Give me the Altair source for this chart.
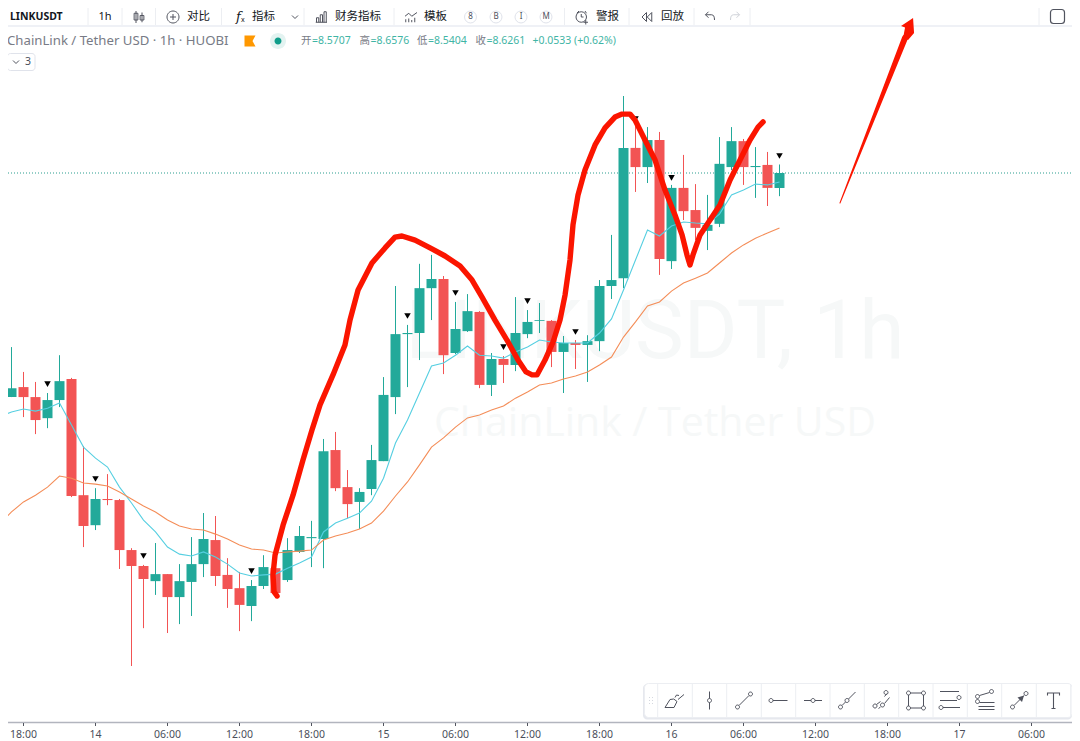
import altair as alt
import pandas as pd

# ---------- candles, hourly ----------
opens = [7.642,7.797,7.834,7.797,7.719,7.786,7.864,7.434,7.323,7.420,7.416,7.231,7.172,7.116,7.142,7.057,7.113,7.179,7.268,7.139,7.090,7.024,7.098,7.164,7.120,7.224,7.275,7.272,7.601,7.464,7.409,7.457,7.560,7.797,8.030,8.034,8.200,8.234,7.960,8.041,8.112,7.842,7.938,7.916,8.030,8.079,8.079,7.964,7.997,7.990,8.004,8.208,8.237,8.719,8.648,8.748,8.300,8.571,8.489,8.412,8.438,8.648,8.744,8.648,8.656,8.5707]
highs = [7.823,7.982,7.890,7.853,7.812,7.952,7.868,7.616,7.460,7.512,7.420,7.238,7.176,7.257,7.142,7.179,7.279,7.368,7.357,7.201,7.150,7.120,7.212,7.250,7.275,7.320,7.339,7.642,7.668,7.527,7.460,7.620,7.871,8.208,8.064,8.290,8.323,8.245,8.149,8.178,8.115,7.960,7.949,8.167,8.119,8.145,8.082,8.023,8.008,8.026,8.230,8.397,8.911,8.830,8.796,8.778,8.582,8.693,8.585,8.545,8.759,8.796,8.752,8.722,8.704,8.6576]
lows = [7.638,7.797,7.723,7.660,7.682,7.760,7.427,7.242,7.305,7.397,7.161,6.802,6.942,7.065,6.924,6.957,6.987,7.131,7.098,7.017,6.931,6.968,7.087,7.053,7.113,7.220,7.168,7.164,7.449,7.349,7.309,7.434,7.560,7.734,7.834,7.934,8.082,7.882,7.956,8.038,7.830,7.801,7.849,7.893,8.015,8.034,7.908,7.812,7.901,7.853,7.967,8.160,8.200,8.556,8.589,8.249,8.271,8.452,8.378,8.341,8.426,8.637,8.582,8.534,8.504,8.5404]
closes = [7.801,7.830,7.797,7.712,7.786,7.856,7.431,7.320,7.420,7.416,7.231,7.172,7.124,7.142,7.057,7.116,7.179,7.272,7.135,7.087,7.028,7.098,7.168,7.072,7.231,7.283,7.279,7.597,7.460,7.401,7.446,7.564,7.805,8.030,8.034,8.200,8.234,7.952,8.049,8.115,7.842,7.938,7.916,8.034,8.075,8.082,7.964,7.997,7.990,8.004,8.208,8.230,8.719,8.648,8.748,8.308,8.571,8.485,8.423,8.434,8.660,8.744,8.648,8.652,8.571,8.6261]
ma_fast = [7.723,7.742,7.753,7.745,7.756,7.775,7.694,7.612,7.571,7.538,7.464,7.405,7.342,7.298,7.242,7.216,7.209,7.224,7.205,7.179,7.146,7.135,7.139,7.142,7.164,7.183,7.205,7.298,7.331,7.349,7.368,7.412,7.497,7.627,7.712,7.812,7.912,7.923,7.952,7.986,7.952,7.949,7.941,7.964,7.982,8.008,8.001,7.997,7.997,7.997,8.034,8.086,8.193,8.304,8.415,8.393,8.430,8.445,8.441,8.438,8.474,8.545,8.563,8.585,8.582,8.593]
ma_slow = [7.327,7.372,7.409,7.434,7.464,7.505,7.497,7.479,7.475,7.468,7.446,7.420,7.394,7.372,7.342,7.320,7.309,7.305,7.290,7.272,7.250,7.235,7.231,7.220,7.224,7.227,7.231,7.268,7.283,7.294,7.309,7.331,7.375,7.431,7.483,7.546,7.612,7.646,7.686,7.720,7.731,7.749,7.764,7.793,7.816,7.842,7.849,7.864,7.875,7.890,7.916,7.945,8.019,8.075,8.134,8.149,8.189,8.219,8.237,8.256,8.293,8.330,8.360,8.385,8.404,8.423]
marker_idx = [4,8,12,21,34,38,42,44,48,53,56,65]
marker_price = [7.845,7.494,7.209,7.153,8.097,8.182,7.982,8.152,8.038,8.826,8.608,8.689]
last_close = 8.6261

# hand-drawn red stroke and arrow
stroke_t = [23.13,22.88,22.79,22.96,23.63,24.46,25.29,26.04,26.71,27.79,28.79,29.21,29.88,31.04,32.13,32.96,33.54,34.63,35.88,37.13,38.38,39.38,40.21,41.29,42.38,43.21,43.88,44.38,44.79,45.46,46.13,46.71,47.13,47.54,47.79,48.21,48.79,49.63,50.46,51.29,51.88,52.54,52.96,53.79,54.63,55.46,56.29,56.88,57.29,57.54,57.79,58.38,59.21,60.04,60.88,61.71,62.54,63.21,63.63]
stroke_p = [7.061,7.076,7.139,7.212,7.323,7.434,7.564,7.675,7.768,7.879,7.990,8.082,8.193,8.293,8.349,8.389,8.393,8.378,8.349,8.319,8.282,8.230,8.167,8.082,8.001,7.934,7.890,7.879,7.879,7.934,8.001,8.082,8.175,8.304,8.434,8.545,8.637,8.730,8.793,8.833,8.844,8.844,8.822,8.748,8.674,8.563,8.471,8.397,8.323,8.286,8.323,8.397,8.452,8.508,8.600,8.674,8.748,8.796,8.815]
arrow_t = [70.04,75.46]
arrow_p = [8.515,9.126]
tip_t = [76.13]
tip_p = [9.200]

tick_idx = [2,8,14,20,26,32,38,44,50,56,62,68,74,80,86]
tick_labels = ["18:00","14","06:00","12:00","18:00","15","06:00","12:00","18:00","16","06:00","12:00","18:00","17","06:00"]

TEAL, RED, DARK, GREY = "#22a99a", "#f25454", "#131722", "#787b86"
CJK = "Noto Sans, Noto Sans CJK SC, sans-serif"
ICON = "#50535e"
ROW = 17
W, H = 1064, 733
RIGHT = 8 + W

xs = alt.Scale(domain=[0.7083, 0.7083 + W / 12], nice=False, zero=False, padding=0)
ys = alt.Scale(domain=[9.2662 - 0.0037 * (8 + H), 9.2366], nice=False, zero=False, padding=0)
X = lambda f: alt.X(f, scale=xs, axis=None)
Y = lambda f: alt.Y(f, scale=ys, axis=None)

rows = [{"k": i, "o": o, "h": h, "l": l, "c": c, "top": max(o, c), "bot": min(o, c),
         "dir": "up" if c >= o else "down", "fast": f, "slow": s}
        for i, (o, h, l, c, f, s) in enumerate(zip(opens, highs, lows, closes, ma_fast, ma_slow))]
df = pd.DataFrame(rows)
dirc = alt.Color("dir:N", scale=alt.Scale(domain=["up", "down"], range=[TEAL, RED]), legend=None)
one = alt.Data(values=[{"a": 1}])


def px(v):
    return alt.value(v - 8)


def label(t, x, y, size=12, color=DARK, align="left", font=CJK, **kw):
    return alt.Chart(one).mark_text(text=t, fontSize=size, color=color, align=align,
                                    baseline="middle", font=font, **kw).encode(x=px(x), y=px(y))


def icon(path, x, y, color=ICON, width=1.0, filled=False, size=4):
    kw = dict(fill=color, stroke=None) if filled else dict(stroke=color, strokeWidth=width, fillOpacity=0)
    return alt.Chart(one).mark_point(shape=path, size=size, opacity=1, filled=filled, **kw).encode(x=px(x), y=px(y))


def vline(x, y1, y2, color="#eceef2", width=1):
    return alt.Chart(one).mark_rule(color=color, strokeWidth=width).encode(x=px(x), y=px(y1), y2=px(y2))


def hline(y, x1, x2, color, width=1, **kw):
    return alt.Chart(one).mark_rule(color=color, strokeWidth=width, **kw).encode(x=px(x1), x2=px(x2), y=px(y))


def box(x1, x2, y1, y2, fill="#ffffff", stroke=None, r=0, width=1):
    kw = {"stroke": stroke, "strokeWidth": width} if stroke else {}
    return alt.Chart(one).mark_rect(fill=fill, cornerRadius=r, **kw).encode(x=px(x1), x2=px(x2), y=px(y1), y2=px(y2))


def circ(cx, cy, r):
    return f"M{cx-r} {cy}A{r} {r} 0 1 1 {cx+r} {cy}A{r} {r} 0 1 1 {cx-r} {cy}Z "


S = 2.25  # toolbar icons at 3/4 scale: the row has to fit under the page margin
layers = []
# toolbar underline goes below the hand-drawn arrow
layers.append(hline(26, 8, RIGHT, "#eff1f6", 2))
# watermark
layers += [label("LINKUSDT, 1h", 655, 333, size=82, color="#f6f8f8", align="center", font="Roboto"),
           label("ChainLink / Tether USD", 655, 424, size=41, color="#f6f8f8", align="center", font="Open Sans")]
# last-price line
layers.append(alt.Chart(pd.DataFrame({"p": [last_close]})).mark_rule(color="#2a9d8f", strokeWidth=1, strokeDash=[1, 2]).encode(
    y=Y("p:Q"), x=alt.value(0), x2=alt.value(W)))
# candles
base = alt.Chart(df)
layers.append(base.mark_rule(strokeWidth=1, clip=True).encode(x=X("k:Q"), y=Y("h:Q"), y2="l:Q", color=dirc))
layers.append(base.mark_bar(size=10, clip=True).encode(x=X("k:Q"), y=Y("top:Q"), y2="bot:Q", color=dirc))
layers.append(base.mark_line(color="#56cfe1", strokeWidth=1.1, clip=True).encode(x=X("k:Q"), y=Y("fast:Q")))
layers.append(base.mark_line(color="#f48d58", strokeWidth=1.1, clip=True).encode(x=X("k:Q"), y=Y("slow:Q")))
# markers
layers.append(alt.Chart(pd.DataFrame({"k": marker_idx, "p": marker_price})).mark_point(
    shape="triangle-down", filled=True, fill="#000000", stroke=None, size=42, opacity=1).encode(x=X("k:Q"), y=Y("p:Q")))
# hand drawing
sd = pd.DataFrame({"t": stroke_t, "p": stroke_p, "i": range(len(stroke_t))})
layers.append(alt.Chart(sd).mark_line(color="#fb1500", strokeWidth=5.4, strokeCap="round", strokeJoin="round").encode(
    x=X("t:Q"), y=Y("p:Q"), order="i:Q"))
ad = pd.DataFrame({"t": arrow_t, "p": arrow_p, "w": [1, 6], "i": [0, 1]})
layers.append(alt.Chart(ad).mark_trail(color="#fb1500").encode(
    x=X("t:Q"), y=Y("p:Q"), order="i:Q", size=alt.Size("w:Q", scale=None, legend=None)))
layers.append(alt.Chart(pd.DataFrame({"t": tip_t, "p": tip_p})).mark_point(
    shape="M0 0L-12 8L-8 9.5L-10 20L-5 22L1 15Z", size=4, filled=True, fill="#fb1500", stroke=None, opacity=1
).encode(x=X("t:Q"), y=Y("p:Q")))

# time axis
tk = pd.DataFrame({"k": tick_idx, "s": tick_labels})
layers.append(hline(722.5, 8, RIGHT, "#b2b5be", 1.5))
layers.append(alt.Chart(tk).mark_rule(color="#50535e", strokeWidth=1).encode(x=X("k:Q"), y=px(723), y2=px(726)))
layers.append(alt.Chart(tk).mark_text(fontSize=10.5, color="#4a4e5a", baseline="middle", font=CJK).encode(
    x=X("k:Q"), y=px(734.5), text="s:N"))

# top toolbar
for x in [88, 122, 155.5, 221.5, 304, 394, 564.5, 629, 694, 750, 1039]:
    layers.append(vline(x, 8, 25))
layers += [
    label("LINKUSDT", 10, ROW, size=10.5, fontWeight="bold"),
    label("1h", 105, ROW, size=11, align="center"),
    icon("M-4 -8V8M-6.5 -5H-1.5V4H-6.5ZM4 -6V7M1.5 -2H6.5V4H1.5Z", 139, ROW, size=S),
    icon(circ(0, 0, 8) + "M-4 0H4M0 -4V4", 173, ROW, size=S),
    label("对比", 187, ROW, size=11.5),
    label("f", 236, ROW, size=13, font="DejaVu Serif", fontStyle="italic"),
    label("x", 241, ROW + 3, size=7),
    label("指标", 252, ROW, size=11.5),
    icon("M-3 -1.5L0 1.5L3 -1.5", 295, ROW),
    icon("M-7 7H8M-6 7V1H-3V7M-1 7V-3H2V7M4 7V-7H7V7", 321, ROW, size=S),
    label("财务指标", 335, ROW, size=11.5),
    icon("M-8 -1L-3 -5L1 -1L8 -6M-7 7V3M-3 7V2M1 7V4M5 7V1", 411, ROW, size=S),
    label("模板", 424, ROW, size=11.5),
]
for ch, x in zip(["8", "B", "I", "M"], [470.5, 496, 521, 546]):
    layers.append(icon(circ(0, 0, 7), x, ROW, color="#e0e3eb", size=S * 1.3))
    layers.append(label(ch, x, ROW, size=8, color="#4a4e5a", align="center"))
layers += [
    icon(circ(-1, 0, 7) + "M-1 -4V0H2M-7 -5L-4 -8M4 -8L6 -5M5 4V10M2 7H8", 582, ROW, size=S),
    label("警报", 596, ROW, size=11.5),
    icon("M0 -6L-6 0L0 6ZM7 -6L1 0L7 6Z", 646.5, ROW, size=S),
    label("回放", 661, ROW, size=11.5),
    icon("M-6 -3L-2 -7M-6 -3L-2 1M-6 -3H2Q6 -3 6 4", 710, ROW, size=S),
    icon("M6 -3L2 -7M6 -3L2 1M6 -3H-2Q-6 -3 -6 4", 735, ROW, color="#cfd2d8", size=S),
    box(1050.5, 1064.5, 9.5, 23.5, fill="#ffffff", stroke="#50535e", r=3, width=1.2),
]

# legend row
layers += [
    label("ChainLink / Tether USD · 1h · HUOBI", 7, 41, size=13.2, color=GREY),
    icon("M-5.5 -5.5H5.5L2.5 0L5.5 5.5H-5.5Z", 250, 41, color="#ff9800", filled=True),
    icon(circ(0, 0, 8), 278, 41, color="#e3f3f1", filled=True),
    icon(circ(0, 0, 3.5), 278, 41, color="#0f9d8a", filled=True),
]
for lab, val, x in zip(["开", "高", "低", "收"], ["=8.5707", "=8.6576", "=8.5404", "=8.6261"], [301, 359.5, 417, 475.5]):
    layers.append(label(lab, x, 41, size=10.5, color=GREY))
    layers.append(label(val, x + 11, 41, size=10.5, color="#3fb5a5"))
layers.append(label("+0.0533 (+0.62%)", 532.5, 41, size=10.5, color="#3fb5a5"))
layers += [
    box(7.5, 35, 53.5, 70.5, stroke="#e0e3eb", r=3),
    icon("M-3 -1.5L0 1.5L3 -1.5", 16, 62),
    label("3", 25, 62, size=10.5, color="#4a4e5a"),
]

# drawing toolbar
layers += [box(643, RIGHT, 684, 719.5, fill="#e6e8ee", r=4),
           box(644.5, RIGHT, 683.5, 717.5, fill="#ffffff", stroke="#eceef2", r=4)]
for x in [657.7, 692.3, 726.7, 761.3, 795.7, 830, 864.3, 898.7, 933, 967.3, 1001.7, 1036.3, 1070.7]:
    layers.append(vline(x, 684, 717))
C = circ
YC = 700.5
layers += [
    icon("M-1 -1.5h1v1h-1zM2 -1.5h1v1h-1zM-1 1.5h1v1h-1zM2 1.5h1v1h-1zM-1 -4.5h1v1h-1zM2 -4.5h1v1h-1z", 650, YC + 1, color="#d5d8df", filled=True),
    icon("M-10 7L-5 -1Q-1 -3 2 1L-1 7ZM0 -3Q1 -7 4 -5M3 -1L9 -6", 675, YC),
    icon("M0 -9V-2M0 2V9" + " " + C(0, 0, 2), 709.5, YC),
    icon("M-5 5L5 -5" + " " + C(-6.5, 6.5, 2) + C(6.5, -6.5, 2), 744, YC),
    icon(C(-7.5, 0, 2) + "M-5.5 0H9", 778.5, YC),
    icon("M-9 0H-2M2 0H9" + " " + C(0, 0, 2), 813, YC),
    icon("M-5 5L-1.5 1.5M1.5 -1.5L8.5 -8.5" + " " + C(-6.5, 6.5, 2) + C(0, 0, 2), 847, YC),
    icon("M-5 4L-1 1M3 -4L5.5 -7M-3 8L-1 6.5M3 3L8 -3" + " " + C(-6.5, 5.5, 2) + C(4.5, -8, 2) + C(1, 4.5, 2), 881.5, YC),
    icon("M-6 -7.5H6M-6 7.5H6M-7.5 -5.5V5.5M7.5 -5.5V5.5" + " " + C(-7.5, -7.5, 2) + C(7.5, -7.5, 2) + C(-7.5, 7.5, 2) + C(7.5, 7.5, 2), 916, YC),
    icon("M-10 -9H9M-10 0H7M-7 7H10" + " " + C(9, -3, 2) + C(-9, 7, 2), 950, YC),
    icon("M-5 -5L5 -8M-5 2H10M-6 6H10M-6 9H10" + " " + C(-7, -4, 2) + C(7, -9, 2) + C(-7, 1, 2), 984.5, YC),
    icon("M-5 5L5 -5" + " " + C(-6.5, 6.5, 2) + C(7, -7, 2), 1019, YC),
    icon("M5 -5L-1.5 -3L3 1.5Z", 1019, YC, filled=True),
    icon("M-6 -5V-7.5H6V-5M0 -7.5V8M-2 8H2", 1053.5, YC, width=1.1),
]

chart = alt.layer(*layers).properties(
    width=W, height=H, padding=0, autosize=alt.AutoSizeParams(type="none")
).configure_view(stroke=None)

chart.save("out.html", embed_options={"renderer": "svg", "actions": False})
